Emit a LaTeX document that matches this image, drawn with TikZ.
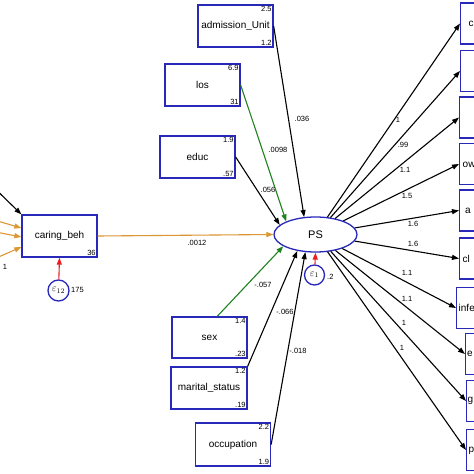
\documentclass[tikz,border=0pt]{standalone}
\usepackage{fontspec}
\setmainfont{Liberation Sans}
\usetikzlibrary{arrows.meta,shapes.geometric}
\definecolor{boxblue}{RGB}{40,40,185}
\definecolor{orangeC}{RGB}{220,150,50}
\definecolor{greenC}{RGB}{30,130,30}
\definecolor{redC}{RGB}{235,30,30}
\begin{document}
\begin{tikzpicture}[x=1pt,y=-1pt,
  obs/.style={draw=boxblue, line width=1.3pt, minimum width=75pt, minimum height=42pt, inner sep=0pt, font=\fontsize{10}{12}\selectfont},
  rbox/.style={draw=boxblue, line width=1.3pt, minimum width=60pt, minimum height=41pt, inner sep=0pt, anchor=west},
  rtxt/.style={anchor=west, inner sep=0pt, font=\fontsize{10}{12}\selectfont},
  numtr/.style={font=\fontsize{7.5}{8}\selectfont, inner sep=1.8pt, anchor=north east},
  numbr/.style={font=\fontsize{7.5}{8}\selectfont, inner sep=1.8pt, anchor=south east},
  lab/.style={font=\fontsize{7.5}{8}\selectfont, inner sep=0pt},
  err/.style={draw=boxblue, circle, line width=1.3pt, minimum size=20pt, inner sep=0pt, font=\fontsize{10}{11}\selectfont},
  conn/.style={line width=1.1pt, -{Triangle[length=7pt,width=5pt]}},
]
\useasboundingbox (0,0) rectangle (474,474);
\clip (0,0) rectangle (474,474);
\fill[white] (0,0) rectangle (474,474);

% observed boxes on the left
\node[obs] (adm) at (235.5,26) {admission\_Unit};
\node[numtr] at (adm.north east) {2.5};
\node[numbr] at (adm.south east) {1.2};
\node[obs] (los) at (202.5,85) {los};
\node[numtr] at (los.north east) {6.9};
\node[numbr] at (los.south east) {31};
\node[obs] (educ) at (197.5,157) {educ};
\node[numtr] at (educ.north east) {1.9};
\node[numbr] at (educ.south east) {.57};
\node[obs] (caring) at (59.5,236) {caring\_beh};
\node[numbr] at (caring.south east) {36};
\node[obs, minimum height=41pt] (sex) at (209.5,337.5) {sex};
\node[numtr] at (sex.north east) {1.4};
\node[numbr] at (sex.south east) {.23};
\node[obs, minimum width=76pt] (marital) at (209,388) {marital\_status};
\node[numtr] at (marital.north east) {1.2};
\node[numbr] at (marital.south east) {.19};
\node[obs, minimum height=43pt] (occ) at (233,444.5) {occupation};
\node[numtr] at (occ.north east) {2.2};
\node[numbr] at (occ.south east) {1.9};

% latent variable
\node[ellipse, draw=boxblue, line width=1.3pt, minimum width=83pt, minimum height=35pt, inner sep=0pt, font=\fontsize{11}{13}\selectfont] (PS) at (315.5,234.5) {PS};

% error terms
\node[err] (e1) at (314.5,275) {$\varepsilon_1$};
\node[lab, anchor=west] at (327,276.5) {.2};
\node[err, minimum size=21pt] (e12) at (58.5,290.5) {$\varepsilon_{12}$};
\node[lab, anchor=west] at (71,290) {175};
\draw[conn, redC] (e1) -- (PS.south);
\draw[conn, redC] (e12) -- (caring.south);

% right boxes (indicators)
\node[rbox] (r1) at (460,23.5) {};
\node[rbox] (r2) at (460,71) {};
\node[rbox] (r3) at (459,117.5) {};
\node[rbox] (r4) at (459,164) {};
\node[rbox] (r5) at (459,210.5) {};
\node[rbox] (r6) at (459,258.5) {};
\node[rbox] (r7) at (456,308) {};
\node[rbox] (r8) at (465,354) {};
\node[rbox] (r9) at (466,401) {};
\node[rbox] (r10) at (466,450) {};
\node[rtxt] at (468.5,24) {c};
\node[rtxt] at (462.5,165) {ow};
\node[rtxt] at (465,211) {a};
\node[rtxt] at (462.5,259) {cl};
\node[rtxt] at (458.5,308) {infe};
\node[rtxt] at (467,354) {e};
\node[rtxt] at (467.5,401) {g};
\node[rtxt] at (468.5,451) {p};

% paths from PS to indicators
\foreach \r in {r1,r2,r3,r4,r5,r6,r7,r8,r9,r10}{
  \draw[conn] (PS) -- (\r.west);
}
\node[lab] at (398,120) {1};
\node[lab] at (403,145) {.99};
\node[lab] at (405,170) {1.1};
\node[lab] at (407,196) {1.5};
\node[lab] at (413,224) {1.6};
\node[lab] at (413,244) {1.6};
\node[lab] at (407,273) {1.1};
\node[lab] at (407,299) {1.1};
\node[lab] at (404,323) {1};
\node[lab] at (402,348) {1};

% paths into PS
\draw[conn] (adm.east) -- (PS.123);
\draw[conn, greenC] (los.east) -- (PS.156);
\draw[conn] (educ.east) -- (PS.165);
\draw[conn, orangeC] (caring.east) -- (PS.west);
\draw[conn, greenC] (sex.70) -- (PS.200);
\draw[conn] (marital.north east) -- (PS.222);
\draw[conn] (occ.east) -- (PS.240);
\node[lab] at (302,119) {.036};
\node[lab] at (278,150) {.0098};
\node[lab] at (268,190) {.056};
\node[lab] at (197,243) {.0012};
\node[lab] at (263,285) {-.057};
\node[lab] at (285,312) {-.066};
\node[lab] at (298,351) {-.018};

% paths into caring_beh from the left (sources outside the picture)
\coordinate (s0) at (-20,174);
\coordinate (s1) at (-30,213);
\coordinate (s2) at (-30,227);
\coordinate (s3) at (-30,269.5);
\draw[conn] (s0) -- (caring.north west);
\draw[conn, orangeC] (s1) -- ([yshift=8pt]caring.west);
\draw[conn, orangeC] (s2) -- ([yshift=-1pt]caring.west);
\draw[conn, orangeC] (s3) -- ([yshift=-11pt]caring.west);
\node[lab] at (5,267) {1};
\end{tikzpicture}
\end{document}
